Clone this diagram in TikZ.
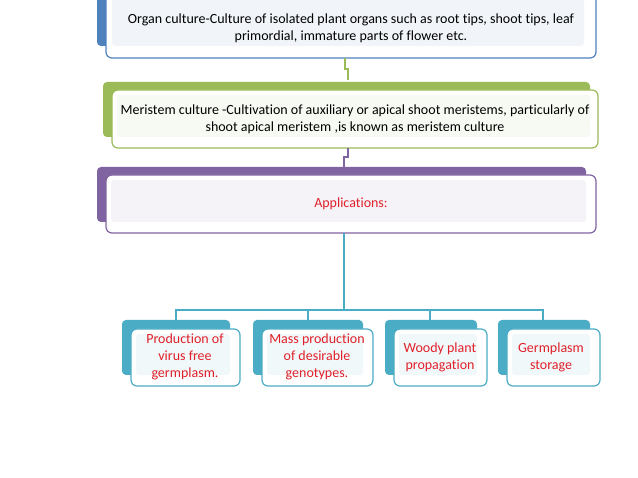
\documentclass[tikz,border=0pt]{standalone}
\usepackage{fontspec}
\setmainfont{Carlito}[Ligatures=NoCommon]
\definecolor{cblue}{HTML}{4F81BD}
\definecolor{cgreen}{HTML}{9BBB59}
\definecolor{cpurp}{HTML}{8064A2}
\definecolor{ccyan}{HTML}{4BACC6}
\definecolor{cred}{HTML}{E0202A}
\begin{document}
\begin{tikzpicture}[x=1pt,y=-1pt,
  back/.style={rounded corners=4pt},
  front/.style={line width=1.2pt,fill=white,rounded corners=6pt},
  inner/.style={rounded corners=3pt},
  txt/.style={align=center,font=\fontsize{14}{17}\selectfont},
  conn/.style={line width=1.2pt}]
\useasboundingbox (0,0) rectangle (638,478);
% organ
\fill[cblue,back] (97,-6) rectangle (586,46);
\draw[front,draw=cblue] (106,-6) rectangle (596,58);
\fill[cblue!8,inner] (112,-2) rectangle (584,46);
\node[txt] (organ) at (351,28) {Organ culture-Culture of isolated plant organs such as root tips, shoot tips, leaf\\primordial, immature parts of flower etc.};
% meristem
\fill[cgreen,back] (103,82) rectangle (590,137);
\draw[front,draw=cgreen] (112,90) rectangle (598,148);
\fill[cgreen!8,inner] (117,95) rectangle (590,137);
\node[txt] (mer) at (355,119) {Meristem culture -Cultivation of auxiliary or apical shoot meristems, particularly of\\shoot apical meristem ,is known as meristem culture};
% applications
\fill[cpurp,back] (97,167) rectangle (586,222);
\draw[front,draw=cpurp] (106,175) rectangle (596,233);
\fill[cpurp!8,inner] (111,180) rectangle (586,222);
\node[txt,text=cred] (app) at (351,204) {Applications:};
% connectors
\draw[conn,cgreen] (345,58) -- (345,69) -- (348,69) -- (348,80);
\draw[conn,cpurp] (348,148) -- (348,157) -- (344,157) -- (344,167);
\coordinate (top) at (344,233);
\coordinate (bar) at (344,310);
\draw[conn,ccyan] (top) -- (bar);
\draw[conn,ccyan] (176,322) -- (176,310) -- (543,310) -- (543,322);
\draw[conn,ccyan] (308,310) -- (308,322);
\draw[conn,ccyan] (430,310) -- (430,322);
% small boxes
\foreach \bx/\fx/\fr/\cx/\name/\t in {
  122/131/240/185/b1/{Production of\\virus free\\germplasm.},
  253/262/373/317/b2/{Mass production\\of desirable\\genotypes.},
  385/394/487/440/b3/{Woody plant\\propagation},
  498/507/600/551/b4/{Germplasm\\storage}}{
  \fill[ccyan,back] (\bx,320) rectangle (\fr-10,375);
  \draw[front,draw=ccyan] (\fx,329) rectangle (\fr,386);
  \fill[ccyan!8,inner] (\fx+5,334) rectangle (\fr-10,375);
  \node[txt,text=cred] (\name) at (\cx,357) {\t};
}
\end{tikzpicture}
\end{document}
